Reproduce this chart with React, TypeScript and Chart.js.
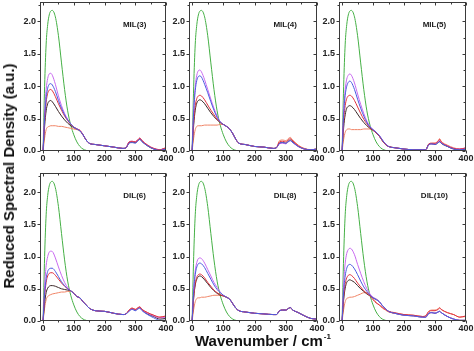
import React, { useEffect, useRef } from "react";
import { Chart, registerables } from "chart.js";

Chart.register(...registerables);

// ---------- data ----------
const WAVENUMBER = [0, 5, 10, 15, 20, 25, 30, 40, 50, 60, 70, 80, 90, 100, 110, 120, 130, 140, 150, 170, 200, 230, 260, 270, 280, 290, 300, 310, 315, 320, 340, 360, 380, 400];

const X_TICKS = [0, 100, 200, 300, 400];
const X_MINOR = [50, 150, 250, 350];
const Y_TICKS = [0, 0.5, 1.0, 1.5, 2.0];
const Y_MINOR = [0.25, 0.75, 1.25, 1.75, 2.25];

const PANEL_LABELS = ["MIL(3)", "MIL(4)", "MIL(5)", "DIL(6)", "DIL(8)", "DIL(10)"];

const GREEN = [0, 1.0, 1.65, 1.95, 2.1, 2.16, 2.17, 2.07, 1.78, 1.36, 0.95, 0.62, 0.4, 0.25, 0.14, 0.07, 0.03, 0.01, 0, 0, 0, 0, 0, 0, 0, 0, 0, 0, 0, 0, 0, 0, 0, 0];

const MIL3_VIOLET = [0, 0.6, 0.95, 1.12, 1.19, 1.2, 1.17, 1.03, 0.85, 0.7, 0.58, 0.49, 0.42, 0.37, 0.34, 0.32, 0.25, 0.17, 0.12, 0.1, 0.08, 0.06, 0.04, 0.05, 0.14, 0.15, 0.14, 0.18, 0.2, 0.17, 0.09, 0.04, 0.02, 0.05];
const MIL3_BLUE = [0, 0.5, 0.82, 0.97, 1.03, 1.04, 1.02, 0.92, 0.78, 0.66, 0.56, 0.48, 0.42, 0.37, 0.34, 0.31, 0.25, 0.17, 0.12, 0.1, 0.08, 0.06, 0.04, 0.05, 0.12, 0.13, 0.12, 0.16, 0.18, 0.15, 0.08, 0.03, 0.01, 0.03];
const MIL3_RED = [0, 0.45, 0.75, 0.89, 0.94, 0.95, 0.93, 0.84, 0.73, 0.63, 0.54, 0.47, 0.41, 0.37, 0.34, 0.32, 0.25, 0.17, 0.12, 0.1, 0.08, 0.06, 0.04, 0.05, 0.14, 0.15, 0.14, 0.18, 0.2, 0.17, 0.09, 0.04, 0.02, 0.05];
const MIL3_BLACK = [0, 0.38, 0.62, 0.73, 0.77, 0.78, 0.76, 0.69, 0.61, 0.54, 0.48, 0.43, 0.39, 0.36, 0.34, 0.31, 0.25, 0.17, 0.12, 0.1, 0.08, 0.06, 0.04, 0.05, 0.13, 0.14, 0.13, 0.17, 0.19, 0.16, 0.08, 0.03, 0.02, 0.04];
const MIL3_ORANGE = [0, 0.2, 0.33, 0.37, 0.38, 0.39, 0.39, 0.39, 0.38, 0.38, 0.37, 0.36, 0.35, 0.34, 0.33, 0.31, 0.25, 0.17, 0.12, 0.1, 0.08, 0.06, 0.04, 0.05, 0.13, 0.14, 0.14, 0.18, 0.2, 0.17, 0.09, 0.04, 0.02, 0.05];

const MIL4_VIOLET = [0, 0.65, 1.0, 1.17, 1.24, 1.25, 1.22, 1.1, 0.95, 0.8, 0.66, 0.54, 0.45, 0.41, 0.38, 0.34, 0.27, 0.18, 0.12, 0.1, 0.07, 0.06, 0.04, 0.05, 0.11, 0.12, 0.11, 0.15, 0.16, 0.14, 0.07, 0.03, 0.02, 0.03];
const MIL4_BLUE = [0, 0.6, 0.93, 1.09, 1.15, 1.16, 1.14, 1.03, 0.9, 0.76, 0.63, 0.52, 0.45, 0.41, 0.38, 0.34, 0.27, 0.18, 0.12, 0.1, 0.07, 0.06, 0.04, 0.05, 0.12, 0.13, 0.12, 0.15, 0.16, 0.14, 0.07, 0.03, 0.02, 0.03];
const MIL4_RED = [0, 0.45, 0.7, 0.81, 0.85, 0.86, 0.85, 0.79, 0.71, 0.63, 0.56, 0.49, 0.44, 0.41, 0.38, 0.34, 0.27, 0.18, 0.12, 0.1, 0.07, 0.06, 0.04, 0.05, 0.14, 0.15, 0.14, 0.18, 0.19, 0.17, 0.08, 0.03, 0.02, 0.03];
const MIL4_BLACK = [0, 0.4, 0.63, 0.74, 0.78, 0.79, 0.78, 0.73, 0.66, 0.59, 0.53, 0.48, 0.44, 0.41, 0.38, 0.34, 0.27, 0.18, 0.12, 0.1, 0.07, 0.06, 0.04, 0.05, 0.12, 0.13, 0.12, 0.16, 0.17, 0.15, 0.07, 0.03, 0.02, 0.03];
const MIL4_ORANGE = [0, 0.2, 0.33, 0.38, 0.39, 0.39, 0.39, 0.4, 0.4, 0.4, 0.4, 0.4, 0.41, 0.41, 0.38, 0.34, 0.27, 0.18, 0.12, 0.1, 0.07, 0.06, 0.04, 0.05, 0.16, 0.17, 0.16, 0.2, 0.21, 0.18, 0.09, 0.04, 0.02, 0.03];

const MIL5_VIOLET = [0, 0.62, 0.95, 1.11, 1.17, 1.19, 1.17, 1.05, 0.88, 0.72, 0.58, 0.46, 0.38, 0.33, 0.29, 0.24, 0.17, 0.11, 0.07, 0.05, 0.03, 0.02, 0.02, 0.02, 0.1, 0.11, 0.11, 0.14, 0.16, 0.13, 0.08, 0.04, 0.03, 0.05];
const MIL5_BLUE = [0, 0.56, 0.86, 1.0, 1.06, 1.08, 1.06, 0.95, 0.8, 0.66, 0.54, 0.44, 0.37, 0.33, 0.29, 0.24, 0.17, 0.11, 0.07, 0.05, 0.03, 0.02, 0.02, 0.02, 0.1, 0.11, 0.1, 0.13, 0.14, 0.12, 0.07, 0.03, 0.02, 0.03];
const MIL5_RED = [0, 0.45, 0.7, 0.81, 0.85, 0.86, 0.85, 0.78, 0.68, 0.58, 0.49, 0.42, 0.36, 0.32, 0.28, 0.23, 0.16, 0.1, 0.07, 0.05, 0.03, 0.02, 0.02, 0.02, 0.11, 0.12, 0.12, 0.15, 0.18, 0.14, 0.08, 0.04, 0.03, 0.05];
const MIL5_BLACK = [0, 0.36, 0.56, 0.66, 0.69, 0.7, 0.69, 0.64, 0.57, 0.5, 0.44, 0.39, 0.35, 0.32, 0.28, 0.23, 0.16, 0.1, 0.07, 0.05, 0.03, 0.02, 0.02, 0.02, 0.1, 0.11, 0.1, 0.13, 0.15, 0.12, 0.07, 0.03, 0.02, 0.03];
const MIL5_ORANGE = [0, 0.18, 0.29, 0.33, 0.34, 0.34, 0.33, 0.33, 0.33, 0.33, 0.34, 0.34, 0.34, 0.32, 0.28, 0.23, 0.16, 0.11, 0.07, 0.05, 0.03, 0.02, 0.02, 0.02, 0.11, 0.12, 0.12, 0.16, 0.19, 0.15, 0.09, 0.05, 0.03, 0.04];

const DIL6_VIOLET = [0, 0.55, 0.86, 1.0, 1.07, 1.085, 1.08, 0.98, 0.84, 0.71, 0.6, 0.52, 0.47, 0.43, 0.38, 0.36, 0.3, 0.25, 0.2, 0.16, 0.15, 0.12, 0.1, 0.11, 0.16, 0.19, 0.17, 0.2, 0.21, 0.18, 0.12, 0.08, 0.05, 0.06];
const DIL6_BLUE = [0, 0.42, 0.66, 0.77, 0.81, 0.82, 0.82, 0.77, 0.69, 0.61, 0.55, 0.5, 0.47, 0.43, 0.38, 0.36, 0.3, 0.25, 0.2, 0.16, 0.15, 0.12, 0.1, 0.11, 0.15, 0.18, 0.16, 0.19, 0.2, 0.17, 0.1, 0.05, 0.01, 0.01];
const DIL6_RED = [0, 0.38, 0.6, 0.7, 0.74, 0.75, 0.75, 0.71, 0.65, 0.59, 0.54, 0.5, 0.47, 0.43, 0.38, 0.36, 0.3, 0.25, 0.2, 0.16, 0.15, 0.12, 0.1, 0.11, 0.17, 0.2, 0.18, 0.21, 0.22, 0.19, 0.13, 0.09, 0.06, 0.08];
const DIL6_BLACK = [0, 0.28, 0.44, 0.51, 0.54, 0.55, 0.55, 0.54, 0.52, 0.5, 0.49, 0.48, 0.47, 0.43, 0.38, 0.36, 0.3, 0.25, 0.2, 0.16, 0.15, 0.12, 0.1, 0.11, 0.16, 0.19, 0.17, 0.2, 0.21, 0.18, 0.11, 0.07, 0.03, 0.04];
const DIL6_ORANGE = [0, 0.2, 0.33, 0.38, 0.4, 0.41, 0.42, 0.43, 0.44, 0.45, 0.45, 0.46, 0.46, 0.43, 0.38, 0.36, 0.3, 0.25, 0.2, 0.16, 0.15, 0.12, 0.1, 0.11, 0.17, 0.2, 0.18, 0.21, 0.22, 0.19, 0.13, 0.09, 0.06, 0.07];

const DIL8_VIOLET = [0, 0.5, 0.78, 0.91, 0.97, 0.98, 0.97, 0.9, 0.8, 0.7, 0.6, 0.52, 0.45, 0.4, 0.37, 0.34, 0.27, 0.2, 0.16, 0.14, 0.12, 0.11, 0.1, 0.1, 0.16, 0.17, 0.17, 0.2, 0.21, 0.18, 0.13, 0.08, 0.04, 0.03];
const DIL8_BLUE = [0, 0.46, 0.72, 0.84, 0.89, 0.9, 0.89, 0.83, 0.74, 0.65, 0.56, 0.49, 0.44, 0.4, 0.37, 0.34, 0.27, 0.2, 0.16, 0.14, 0.12, 0.11, 0.1, 0.1, 0.16, 0.17, 0.17, 0.2, 0.21, 0.18, 0.13, 0.08, 0.04, 0.03];
const DIL8_RED = [0, 0.37, 0.58, 0.68, 0.72, 0.73, 0.72, 0.67, 0.6, 0.54, 0.48, 0.44, 0.41, 0.39, 0.37, 0.34, 0.27, 0.2, 0.16, 0.14, 0.12, 0.11, 0.1, 0.1, 0.16, 0.17, 0.17, 0.2, 0.21, 0.18, 0.13, 0.08, 0.04, 0.03];
const DIL8_BLACK = [0, 0.36, 0.56, 0.65, 0.69, 0.7, 0.69, 0.64, 0.58, 0.52, 0.47, 0.43, 0.4, 0.39, 0.37, 0.34, 0.27, 0.2, 0.16, 0.14, 0.12, 0.11, 0.1, 0.1, 0.16, 0.17, 0.17, 0.2, 0.21, 0.18, 0.13, 0.08, 0.04, 0.03];
const DIL8_ORANGE = [0, 0.18, 0.3, 0.35, 0.36, 0.36, 0.37, 0.37, 0.38, 0.39, 0.4, 0.4, 0.4, 0.39, 0.37, 0.34, 0.27, 0.2, 0.16, 0.14, 0.12, 0.11, 0.1, 0.1, 0.16, 0.17, 0.17, 0.2, 0.21, 0.18, 0.13, 0.08, 0.04, 0.03];

const DIL10_VIOLET = [0, 0.58, 0.9, 1.05, 1.11, 1.13, 1.12, 1.03, 0.88, 0.74, 0.61, 0.5, 0.42, 0.37, 0.34, 0.3, 0.24, 0.19, 0.15, 0.12, 0.09, 0.08, 0.06, 0.06, 0.12, 0.13, 0.12, 0.14, 0.15, 0.13, 0.07, 0.03, 0.01, 0.01];
const DIL10_BLUE = [0, 0.45, 0.7, 0.82, 0.87, 0.88, 0.87, 0.81, 0.72, 0.62, 0.53, 0.46, 0.4, 0.36, 0.33, 0.3, 0.24, 0.19, 0.15, 0.12, 0.09, 0.08, 0.06, 0.06, 0.12, 0.13, 0.12, 0.14, 0.15, 0.13, 0.07, 0.03, 0.01, 0.01];
const DIL10_RED = [0, 0.37, 0.58, 0.67, 0.71, 0.72, 0.71, 0.66, 0.59, 0.53, 0.47, 0.43, 0.39, 0.33, 0.28, 0.25, 0.21, 0.18, 0.15, 0.13, 0.1, 0.09, 0.07, 0.08, 0.15, 0.16, 0.16, 0.18, 0.2, 0.18, 0.13, 0.1, 0.06, 0.08];
const DIL10_BLACK = [0, 0.33, 0.51, 0.6, 0.63, 0.64, 0.63, 0.6, 0.55, 0.5, 0.46, 0.42, 0.39, 0.36, 0.34, 0.3, 0.24, 0.19, 0.15, 0.12, 0.09, 0.08, 0.06, 0.06, 0.12, 0.13, 0.12, 0.14, 0.15, 0.13, 0.07, 0.03, 0.01, 0.01];
const DIL10_ORANGE = [0, 0.18, 0.3, 0.35, 0.36, 0.37, 0.37, 0.38, 0.4, 0.42, 0.44, 0.44, 0.41, 0.35, 0.29, 0.25, 0.2, 0.17, 0.14, 0.12, 0.1, 0.09, 0.07, 0.08, 0.15, 0.17, 0.17, 0.19, 0.21, 0.18, 0.13, 0.1, 0.06, 0.07];

const PANEL_SERIES = [
  { violet: MIL3_VIOLET, blue: MIL3_BLUE, red: MIL3_RED, black: MIL3_BLACK, orange: MIL3_ORANGE },
  { violet: MIL4_VIOLET, blue: MIL4_BLUE, red: MIL4_RED, black: MIL4_BLACK, orange: MIL4_ORANGE },
  { violet: MIL5_VIOLET, blue: MIL5_BLUE, red: MIL5_RED, black: MIL5_BLACK, orange: MIL5_ORANGE },
  { violet: DIL6_VIOLET, blue: DIL6_BLUE, red: DIL6_RED, black: DIL6_BLACK, orange: DIL6_ORANGE },
  { violet: DIL8_VIOLET, blue: DIL8_BLUE, red: DIL8_RED, black: DIL8_BLACK, orange: DIL8_ORANGE },
  { violet: DIL10_VIOLET, blue: DIL10_BLUE, red: DIL10_RED, black: DIL10_BLACK, orange: DIL10_ORANGE },
];

// ---------- styles / layout ----------
const FONT = "'Liberation Sans', Arial, sans-serif";
const COLORS = {
  blue: "#4a5ae0",
  red: "#e0303e",
  violet: "#c868f0",
  black: "#3a2626",
  orange: "#f08466",
  green: "#45b045",
};
const DRAW_ORDER = ["blue", "red", "violet", "black", "orange"];

// plot-area rectangles in page pixels
const COL_X = [
  [40, 166],
  [189, 317],
  [339, 466],
];
const ROW_Y = [
  [2, 151],
  [173, 321],
];
const PAD_L = 34;
const PAD_T = 12;
const PAD_R = 14;
const PAD_B = 16;

const framePlugin = {
  id: "frameTicks",
  afterDraw(chart: any, _args: any, opts: any) {
    const { ctx, chartArea: a, scales } = chart;
    const l = Math.round(a.left) + 0.5;
    const t = Math.round(a.top) + 0.5;
    const r = Math.round(a.right) - 0.5;
    const b = Math.round(a.bottom) - 0.5;
    ctx.save();
    ctx.strokeStyle = "#3a3a3a";
    ctx.lineWidth = 1;
    ctx.strokeRect(l, t, r - l, b - t);
    ctx.beginPath();
    const xt = (vals: number[], len: number) => {
      vals.forEach((v) => {
        const px = Math.round(scales.x.getPixelForValue(v)) + 0.5;
        ctx.moveTo(px, b);
        ctx.lineTo(px, b + len);
        ctx.moveTo(px, t);
        ctx.lineTo(px, t + len);
      });
    };
    const yt = (vals: number[], len: number) => {
      vals.forEach((v) => {
        const py = Math.round(scales.y.getPixelForValue(v)) + 0.5;
        ctx.moveTo(l, py);
        ctx.lineTo(l - len, py);
        ctx.moveTo(r, py);
        ctx.lineTo(r - len, py);
      });
    };
    xt(X_TICKS, 3);
    xt(X_MINOR, 2);
    yt(Y_TICKS, 3);
    yt(Y_MINOR, 2);
    ctx.stroke();
    ctx.fillStyle = "#1a1a1a";
    ctx.font = `bold 8px ${FONT}`;
    ctx.textAlign = "center";
    ctx.textBaseline = "middle";
    ctx.fillText(opts.label, scales.x.getPixelForValue(298), scales.y.getPixelForValue(1.95));
    ctx.restore();
  },
};

function Panel({ index }: { index: number }) {
  const ref = useRef<HTMLCanvasElement | null>(null);
  const col = index % 3;
  const row = Math.floor(index / 3);
  const [pl, pr] = COL_X[col];
  const [pt, pb] = ROW_Y[row];
  const width = pr - pl + PAD_L + PAD_R;
  const height = pb - pt + PAD_T + PAD_B;

  useEffect(() => {
    const series: any = PANEL_SERIES[index];
    const mk = (arr: number[], color: string) => ({
      data: WAVENUMBER.map((x, i) => ({ x, y: arr[i] })),
      borderColor: color,
      backgroundColor: color,
      borderWidth: 1,
      pointRadius: 0,
      fill: false,
      cubicInterpolationMode: "monotone" as const,
    });
    const datasets = [
      ...DRAW_ORDER.map((k) => mk(series[k], (COLORS as any)[k])),
      mk(GREEN, COLORS.green),
    ];
    const tickFont = { family: FONT, size: 9, weight: "bold" as const };
    const chart = new Chart(ref.current as HTMLCanvasElement, {
      type: "line",
      data: { datasets },
      options: {
        animation: false,
        responsive: false,
        maintainAspectRatio: false,
        events: [],
        layout: { padding: { left: 0, top: PAD_T, right: PAD_R, bottom: 0 } },
        plugins: {
          legend: { display: false },
          tooltip: { enabled: false },
          title: { display: false },
          frameTicks: { label: PANEL_LABELS[index] },
        } as any,
        scales: {
          x: {
            type: "linear",
            min: -10,
            max: 400,
            grid: { display: false, drawTicks: false },
            border: { display: false },
            ticks: {
              font: tickFont,
              color: "#222",
              padding: 2,
              maxRotation: 0,
              callback: (v: any) => String(v),
            },
            afterBuildTicks: (s: any) => {
              s.ticks = X_TICKS.map((v) => ({ value: v }));
            },
            afterFit: (s: any) => {
              s.height = PAD_B;
            },
          },
          y: {
            type: "linear",
            min: 0,
            max: 2.3,
            grid: { display: false, drawTicks: false },
            border: { display: false },
            ticks: {
              font: tickFont,
              color: "#222",
              padding: 4,
              callback: (v: any) => Number(v).toFixed(1),
            },
            afterBuildTicks: (s: any) => {
              s.ticks = Y_TICKS.map((v) => ({ value: v }));
            },
            afterFit: (s: any) => {
              s.width = PAD_L;
            },
          },
        },
      },
      plugins: [framePlugin],
    });
    return () => chart.destroy();
  }, [index]);

  return (
    <canvas
      ref={ref}
      width={width}
      height={height}
      style={{ position: "absolute", left: pl - PAD_L, top: pt - PAD_T, width, height }}
    />
  );
}

export default function App() {
  return (
    <div
      style={{
        position: "fixed",
        left: 0,
        top: 0,
        width: 474,
        height: 351,
        background: "#ffffff",
        overflow: "hidden",
        fontFamily: FONT,
      }}
    >
      {PANEL_LABELS.map((_, i) => (
        <Panel key={i} index={i} />
      ))}
      <div
        style={{
          position: "absolute",
          left: 9,
          top: 176,
          transform: "translate(-50%, -50%) rotate(-90deg)",
          whiteSpace: "nowrap",
          fontWeight: "bold",
          fontSize: 15,
          color: "#111",
          lineHeight: "16px",
        }}
      >
        Reduced Spectral Density (a.u.)
      </div>
      <div
        style={{
          position: "absolute",
          left: 263,
          top: 342,
          transform: "translate(-50%, -50%)",
          whiteSpace: "nowrap",
          fontWeight: "bold",
          fontSize: 15,
          color: "#111",
          lineHeight: "16px",
        }}
      >
        Wavenumber / cm
        <span style={{ fontSize: 8, position: "relative", top: -7, marginLeft: 1 }}>-1</span>
      </div>
    </div>
  );
}
